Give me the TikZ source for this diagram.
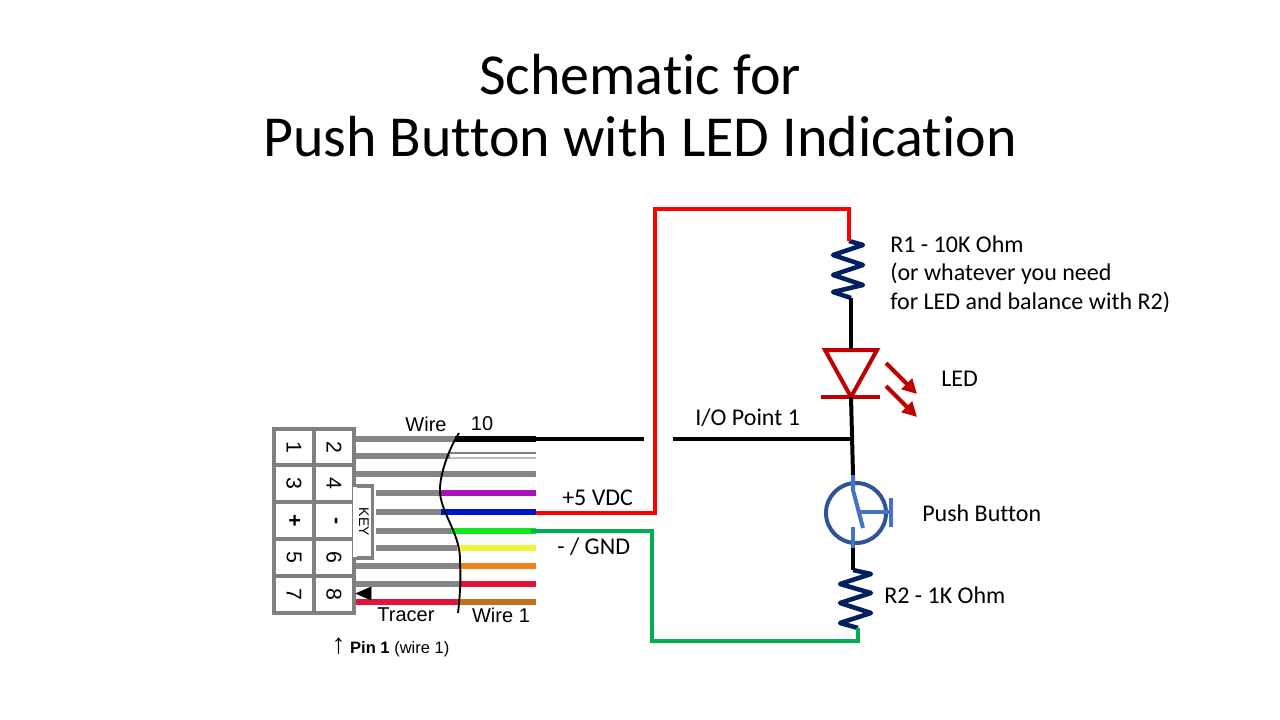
\documentclass[tikz,border=0pt]{standalone}
\usepackage{fontspec}
\setmainfont{Carlito}[Ligatures=NoCommon]
\newfontfamily\photofont{Liberation Sans}
\usetikzlibrary{arrows.meta,positioning,calc}

\definecolor{ribbongrey}{HTML}{858585}
\definecolor{framegrey}{HTML}{808080}
\definecolor{resnavy}{HTML}{002060}
\definecolor{ledred}{HTML}{C00000}
\definecolor{btnring}{HTML}{2F5597}
\definecolor{btnblue}{HTML}{4472C4}
\definecolor{gndgreen}{HTML}{00B050}

\tikzset{
  wire/.style={line width=3pt},
  ribbon/.style={line width=4.2pt},
  res/.style={line width=3.4pt, draw=resnavy, line join=round},
  label/.style={font=\fontsize{18}{21.4}\selectfont, anchor=west, inner sep=0pt, align=left},
  photo/.style={font=\photofont\fontsize{15}{17}\selectfont, inner sep=0pt},
  pin/.style={draw=framegrey, fill=white, line width=3pt, minimum width=30pt, minimum height=27.6pt,
    inner sep=0pt, font=\photofont\fontsize{16}{18}\selectfont},
}

\begin{document}
\begin{tikzpicture}[x=0.75pt, y=-0.75pt]
  \useasboundingbox (0,0) rectangle (1280,720);
  \node[font=\fontsize{43.5}{46.5}\selectfont, align=center, inner sep=0pt] (title) at (640,106)
    {Schematic for\\Push Button with LED Indication};

  % ribbon cable: y / start of grey / colour change / left colour / right colour
  \foreach \n/\y/\xs/\xc/\cl/\cr in {
      1/439/356/455/ribbongrey/black,
      2/456/356/450/ribbongrey/white,
      3/474/356/450/ribbongrey/ribbongrey,
      4/493/376/440/ribbongrey/{rgb,255:red,170;green,20;blue,180},
      5/512/376/441/ribbongrey/{rgb,255:red,0;green,20;blue,200},
      6/531/376/451/ribbongrey/{rgb,255:red,20;green,230;blue,30},
      7/548/376/457/ribbongrey/{rgb,255:red,240;green,245;blue,60},
      8/566/356/460/ribbongrey/{rgb,255:red,240;green,130;blue,30},
      9/584/356/461/ribbongrey/{rgb,255:red,225;green,20;blue,60},
      10/602/356/460/{rgb,255:red,225;green,20;blue,60}/{rgb,255:red,190;green,115;blue,30}}{
    \coordinate (ws\n) at (\xs,\y);
    \coordinate (wc\n) at (\xc,\y);
    \coordinate (we\n) at (536,\y);
    \draw[ribbon, draw=\cl] (ws\n) -- (wc\n);
    \draw[ribbon, draw=\cr] (wc\n) -- (we\n);
  }
  % the second wire is light, two thin lines
  \draw[line width=0.8pt, draw=gray] ($(wc2)+(0,-3)$) -- ($(we2)+(0,-3)$);
  \draw[line width=0.8pt, draw=lightgray] ($(wc2)+(0,2)$) -- ($(we2)+(0,2)$);

  % connector pins
  \foreach \n/\lab/\x/\y in {1/1/294/447,2/2/334/447,3/3/294/483.8,4/4/334/483.8,
                             p/\textbf{+}/294/520.6,m/\textbf{-}/334/520.6,5/5/294/557.4,6/6/334/557.4,
                             7/7/294/594.2,8/8/334/594.2}{
    \node[pin] (pin\n) at (\x,\y) {\rotatebox{-90}{\lab}};
  }
  \node[draw=framegrey, fill=white, line width=2.5pt, minimum width=13pt, minimum height=54pt, inner sep=0pt,
        font=\photofont\fontsize{10.5}{12}\selectfont] (key) at (364,522) {\rotatebox{-90}{KEY}};
  \node[fill=white, minimum width=3pt, minimum height=52pt, inner sep=0pt] at (355,522) {};
  \draw[fill=black] (356,593.5) coordinate (tip) -- (371,587) -- (371,600) -- cycle;

  % cut line across the ribbon
  \coordinate (cutA) at (459,433);
  \coordinate (cutB) at (440,493);
  \coordinate (cutC) at (460,562);
  \coordinate (cutD) at (458,613);
  \draw[line width=1.4pt] (cutA) .. controls (447,452) and (439,478) .. (cutB)
    .. controls (442,515) and (461,535) .. (cutC) .. controls (461,580) and (460,595) .. (cutD);

  \node[photo] (wirelab) at (426,424) {Wire};
  \node[photo] (tenlab) at (482,424) {10};
  \node[photo] (tracer) at (406,615) {Tracer};
  \node[photo] (wireone) at (501,615) {Wire 1};
  \node[photo, font=\photofont\fontsize{12.4}{14}\selectfont] (pinone) at (390.5,647)
    {{\fontsize{21}{21}\selectfont\char"2191}\ \textbf{Pin 1} (wire 1)};

  % parts on the right
  \coordinate (r1top) at (849,241);
  \coordinate (r1bot) at (851,298);
  \draw[res] (r1top) -- (863,245) -- (833,255) -- (863,265) -- (833,275) -- (863,285) -- (833,292) -- (r1bot);

  \coordinate (ledA) at (851,349);
  \coordinate (ledK) at (851,397);
  \draw[line width=3pt, draw=ledred, line join=miter] (825,350) -- (877,350) -- (ledK) -- cycle;
  \draw[line width=3pt, draw=ledred] (821,397) -- (880,397);
  \foreach \a/\b in {363/394,386/417}{
    \draw[line width=3pt, draw=ledred, -{Triangle[length=11pt,width=11pt]}] (886,\a) -- (917,\b);
  }

  \coordinate (btnT) at (853,475);
  \coordinate (btnB) at (853,548);
  \coordinate (junct) at (853,439);
  \draw[line width=3pt, draw=btnring] (856,513) circle (30);
  \draw[line width=3pt, draw=btnblue] (btnT) -- (853,490) -- (863,528);
  \draw[line width=3pt, draw=btnblue] (853,527) -- (btnB);
  \draw[line width=3pt, draw=btnblue] (860,512) -- (891,512);
  \draw[line width=3pt, draw=btnblue] (891,498) -- (891,527);

  \coordinate (r2top) at (853,570);
  \coordinate (r2bot) at (858,628);
  \draw[res] (r2top) -- (871,574) -- (840,584) -- (871,593) -- (840,603) -- (871,613) -- (840,623) -- (r2bot);

  % connections
  \draw[wire, draw=red, line join=miter] ($(we5)+(0,1)$) -| (655,209) -| (r1top);
  \draw[wire, draw=gndgreen] (531,531) -| (652,641) -| (r2bot);
  \draw[wire] (we1) -- (644,439);
  \draw[wire] (673,439) -- (junct);
  \draw[wire] (r1bot) -- (ledA);
  \draw[wire] (ledK) -- (btnT);
  \draw[wire] (btnB) -- (r2top);

  % labels
  \node[label] (r1lab) at (890,274) {R1 - 10K Ohm\\(or whatever you need\\for LED and balance with R2)};
  \node[label] (ledlab) at (941,379) {LED};
  \node[label] (iolab) at (695,418) {I/O Point 1};
  \node[label] (btnlab) at (922,513) {Push Button};
  \node[label] (r2lab) at (884,595) {R2 - 1K Ohm};
  \node[label] (vcclab) at (562,498) {+5 VDC};
  \node[label] (gndlab) at (557,547) {- / GND};
\end{tikzpicture}
\end{document}
